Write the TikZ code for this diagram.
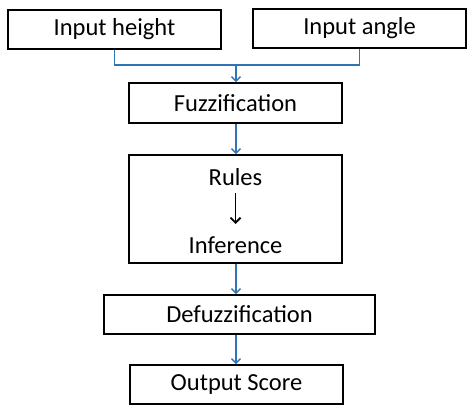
\documentclass[tikz,border=0pt]{standalone}
\usepackage{fontspec}
\setmainfont{Carlito}
\usetikzlibrary{arrows.meta}
\definecolor{linkblue}{RGB}{46,117,182}
\begin{document}
\begin{tikzpicture}[
  x=1pt, y=-1pt,
  box/.style={draw, line width=1.7pt, minimum width=213pt, minimum height=39pt, inner sep=0pt, font=\fontsize{24.5}{28}\selectfont},
  txt/.style={inner sep=0pt, font=\fontsize{24.5}{28}\selectfont},
  link/.style={linkblue, line width=1.5pt, -{Straight Barb[length=4.5pt,width=9pt]}},
  inner/.style={black, line width=1.8pt, -{Straight Barb[length=5pt,width=10pt]}}
]
\useasboundingbox (0,0) rectangle (474,417);

% boxes
\node[box] (height) at (114.5,29.5) {Input height};
\node[box] (angle) at (359.5,28.5) {Input angle};
\node[box, minimum height=40pt] (fuzz) at (235.5,103) {Fuzzification};
\node[box, minimum height=108pt] (rules) at (235.5,209) {};
\node[txt] (rtext) at (235.5,177) {Rules};
\node[txt] (itext) at (235.5,245) {Inference};
\node[box, minimum width=271pt] (defuzz) at (239.5,314.5) {Defuzzification};
\node[box] (out) at (236.5,384.5) {Output Score};

% join of the two inputs
\coordinate (join) at (236,65);
\draw[linkblue, line width=1.5pt] (height) |- (join) -| (angle);

% flow
\draw[link] (join) -- (join |- fuzz.north);
\draw[link] (fuzz.south -| join) -- (join |- rules.north);
\draw[link] (rules.south -| join) -- (join |- defuzz.north);
\draw[link] (defuzz.south -| join) -- (join |- out.north);

% inside the rules box
\coordinate (rtop) at (235.5,193);
\coordinate (rbot) at (235.5,224);
\draw[inner] (rtop) -- (rbot);
\end{tikzpicture}
\end{document}
